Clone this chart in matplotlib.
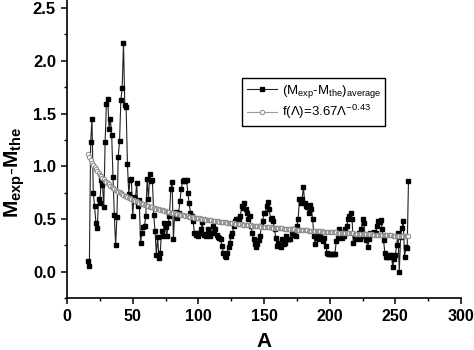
import numpy as np
import matplotlib
matplotlib.use("Agg")
import matplotlib.pyplot as plt
from matplotlib.ticker import MultipleLocator

plt.rcParams['font.family'] = ['Liberation Sans', 'DejaVu Sans']
plt.rcParams['mathtext.fontset'] = 'custom'
plt.rcParams['mathtext.rm'] = 'Liberation Sans'
plt.rcParams['mathtext.it'] = 'Liberation Sans'
plt.rcParams['mathtext.bf'] = 'Liberation Sans:bold'

# mass number range of the averaged residuals
A_START = 16
A_END = 260

# (M_exp - M_the) averaged at each A, from A=16 to A=260
m_diff_avg = [
    0.10, 0.05, 1.23, 1.45, 0.75, 0.62, 0.46, 0.41, 0.69, 0.65,  # 16-25
    0.87, 0.82, 0.61, 1.23, 1.59, 1.64, 1.35, 1.45, 1.30, 0.90,  # 26-35
    0.54, 0.25, 0.52, 1.09, 1.24, 1.63, 1.74, 2.17, 1.58, 1.56,  # 36-45
    1.02, 0.74, 0.87, 0.88, 0.53, 0.71, 0.67, 0.84, 0.62, 0.68,  # 46-55
    0.27, 0.37, 0.42, 0.43, 0.53, 0.88, 0.69, 0.93, 0.86, 0.87,  # 56-65
    0.54, 0.39, 0.16, 0.33, 0.13, 0.18, 0.39, 0.34, 0.46, 0.42,  # 66-75
    0.34, 0.46, 0.53, 0.78, 0.85, 0.31, 0.56, 0.57, 0.51, 0.56,  # 76-85
    0.67, 0.78, 0.86, 0.87, 0.86, 0.87, 0.75, 0.65, 0.56, 0.53,  # 86-95
    0.48, 0.37, 0.35, 0.37, 0.34, 0.37, 0.40, 0.47, 0.35, 0.36,  # 96-105
    0.34, 0.40, 0.37, 0.34, 0.37, 0.43, 0.37, 0.40, 0.35, 0.33,  # 106-115
    0.32, 0.31, 0.24, 0.18, 0.15, 0.14, 0.18, 0.23, 0.27, 0.34,  # 116-125
    0.37, 0.43, 0.48, 0.50, 0.50, 0.50, 0.53, 0.62, 0.60, 0.65,  # 126-135
    0.59, 0.56, 0.50, 0.53, 0.43, 0.37, 0.31, 0.26, 0.23, 0.26,  # 136-145
    0.30, 0.34, 0.43, 0.48, 0.56, 0.56, 0.62, 0.66, 0.59, 0.50,  # 146-155
    0.51, 0.48, 0.40, 0.32, 0.24, 0.27, 0.24, 0.23, 0.31, 0.26,  # 156-165
    0.27, 0.34, 0.31, 0.31, 0.31, 0.37, 0.40, 0.35, 0.34, 0.43,  # 166-175
    0.50, 0.69, 0.65, 0.69, 0.80, 0.65, 0.62, 0.61, 0.56, 0.63,  # 176-185
    0.59, 0.50, 0.34, 0.26, 0.32, 0.35, 0.31, 0.37, 0.32, 0.29,  # 186-195
    0.32, 0.24, 0.18, 0.17, 0.17, 0.17, 0.17, 0.17, 0.17, 0.29,  # 196-205
    0.32, 0.40, 0.37, 0.32, 0.37, 0.34, 0.40, 0.43, 0.50, 0.53,  # 206-215
    0.56, 0.50, 0.27, 0.34, 0.31, 0.35, 0.37, 0.31, 0.40, 0.50,  # 216-225
    0.46, 0.34, 0.30, 0.23, 0.31, 0.37, 0.36, 0.37, 0.38, 0.37,  # 226-235
    0.43, 0.48, 0.47, 0.49, 0.40, 0.30, 0.18, 0.14, 0.14, 0.14,  # 236-245
    0.16, 0.16, 0.04, 0.12, 0.16, 0.25, 0.37, 0.00, 0.33, 0.41,  # 246-255
    0.48, 0.14, 0.23, 0.22, 0.86,                                # 256-260
]

# power-law fit f(A) = C * A^P
FIT_C = 3.67
FIT_P = -0.43

x_ticks = [0, 50, 100, 150, 200, 250, 300]
y_ticks = [0.0, 0.5, 1.0, 1.5, 2.0, 2.5]


def main():
    a_vals = np.arange(A_START, A_END + 1)
    fit_vals = FIT_C * a_vals.astype(float) ** FIT_P

    fig = plt.figure(figsize=(4.74, 3.5), dpi=100)
    ax = fig.add_axes([0.1414, 0.1486, 0.8312, 0.8514])

    ax.plot(a_vals, m_diff_avg, color='#222222', lw=0.8, marker='s',
            ms=3.3, mfc='black', mec='black',
            label=r'(M$_{exp}$-M$_{the}$)$_{average}$')
    ax.plot(a_vals, fit_vals, color='#9a9a9a', lw=0.8, marker='o',
            ms=3.2, mfc='white', mec='#8a8a8a', mew=0.7,
            label=r'f($\Lambda$)=3.67$\Lambda^{-0.43}$')

    ax.set_xlim(0, 300)
    ax.set_ylim(-0.25, 2.577)
    ax.set_xticks(x_ticks)
    ax.set_yticks(y_ticks)
    ax.set_yticklabels(['%.1f' % v for v in y_ticks])
    ax.xaxis.set_minor_locator(MultipleLocator(25))
    ax.yaxis.set_minor_locator(MultipleLocator(0.25))

    for side in ['top', 'right']:
        ax.spines[side].set_visible(False)
    for side in ['left', 'bottom']:
        ax.spines[side].set_linewidth(1.2)

    ax.tick_params(which='major', direction='out', length=4.5, width=1.1)
    ax.tick_params(which='minor', direction='out', length=2.5, width=1.0)
    for lbl in ax.get_xticklabels():
        lbl.set_fontweight('bold')
        lbl.set_fontsize(11.5)
    for lbl in ax.get_yticklabels():
        lbl.set_fontweight('bold')
        lbl.set_fontsize(12)

    ax.set_xlabel('A', fontsize=15, fontweight='bold')
    ax.xaxis.set_label_coords(0.5, -0.115)
    ax.set_ylabel(r'$\mathbf{M_{exp}}$$\mathbf{\text{-}M_{the}}$',
                  fontsize=15)
    ax.yaxis.set_label_coords(-0.102, 0.423)

    leg = ax.legend(loc='upper left', bbox_to_anchor=(0.444, 0.738),
                    borderaxespad=0, fancybox=False, framealpha=1,
                    edgecolor='black', fontsize=9.5, handlelength=2.3,
                    handletextpad=0.35, labelspacing=0.25, borderpad=0.35)
    leg.get_frame().set_linewidth(1.0)

    fig.savefig('out.png', dpi=100)


main()
